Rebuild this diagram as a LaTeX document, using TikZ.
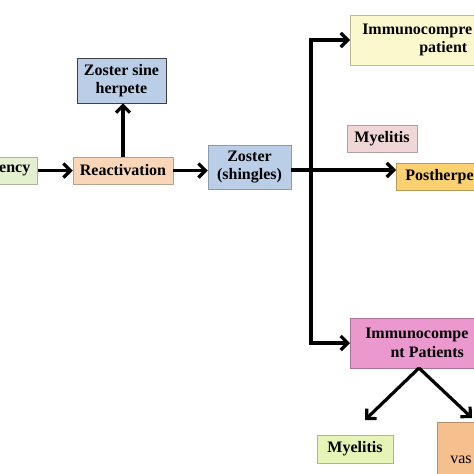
\documentclass[tikz,border=0pt]{standalone}
\usepackage{fontspec}
\setmainfont{Liberation Serif}
\usetikzlibrary{arrows.meta}
\usetikzlibrary{positioning}

\definecolor{latgreen}{RGB}{228,240,208}
\definecolor{peach}{RGB}{249,214,184}
\definecolor{skyblue}{RGB}{186,206,232}
\definecolor{paleyellow}{RGB}{250,248,204}
\definecolor{rosepink}{RGB}{240,214,214}
\definecolor{gold}{RGB}{250,208,112}
\definecolor{magpink}{RGB}{234,152,206}
\definecolor{limegreen}{RGB}{230,244,184}
\definecolor{apricot}{RGB}{246,192,142}

\begin{document}
\begin{tikzpicture}
	[
	x = 1pt, y = -1pt,
	> = {Straight Barb[length=7pt,width=14pt]},
	box/.style = {draw=#1!75!black, fill=#1, line width=0.5pt, inner sep=0pt, align=center,
		font=\bfseries\fontsize{16}{18.5}\selectfont},
	flow/.style = {->, line width=3.2pt},
	trunk/.style = {line width=3.2pt}
	]
		\useasboundingbox (0,0) rectangle (474,474);
		\clip (0,0) rectangle (474,474);

		\coordinate (fork) at (311,170);
		\coordinate (apex) at (419,368);
		\coordinate (tipL) at (365,420);
		\coordinate (tipR) at (472,418);

		\node[box=latgreen, anchor=east, minimum height=27pt, inner xsep=7pt] (lat) at (37.5,170.5) {ency};
		\node[box=peach, minimum width=100pt, minimum height=27pt] (react) at (123,170.5) {Reactivation};
		\node[box=skyblue, draw=black!75, line width=0.8pt, minimum width=89pt, minimum height=45pt] (zsh) at (121.5,80.5) {Zoster sine\\herpete};
		\node[box=skyblue, minimum width=83pt, minimum height=44pt] (zos) at (249.5,167) {Zoster\\(shingles)};

		\node[box=paleyellow, anchor=west, minimum width=186pt, minimum height=50pt] (immcomp) at (350,40) {\makebox[162pt][l]{Immunocompre}\\patient};
		\node[box=rosepink, minimum width=70pt, minimum height=27pt] (mye1) at (382,138.5) {Myelitis};
		\node[box=gold, anchor=west, minimum height=27pt, text width=100pt, align=left, inner xsep=9pt] (post) at (396,176.5) {Postherpe};
		\node[box=magpink, anchor=west, minimum width=154pt, minimum height=50pt] (immcpt) at (350,343) {\makebox[124pt][l]{Immunocompe}\\nt Patients};
		\node[box=limegreen, minimum width=76pt, minimum height=28pt] (mye2) at (355,449) {Myelitis};
		\node[box=apricot, anchor=north west, minimum height=76pt, text width=60pt, align=left, inner xsep=13pt,
			font=\mdseries\fontsize{16}{18.5}\selectfont] (vas) at (437,422) {vas};

		\draw[flow] (lat) -- (react);
		\draw[flow] (react.north) -- (react.north |- zsh.south);
		\draw[flow] (react.east) -- (react.east -| zos.west);

		\draw[trunk] (zos.east |- fork) -- (fork);
		\draw[flow] (fork) -- (fork -| post.west);
		\draw[flow] (fork) |- (immcomp.west);
		\draw[flow] (fork) |- (immcpt.west);

		\draw[flow] (apex) -- (tipL);
		\draw[flow] (apex) -- (tipR);

	\end{tikzpicture}
\end{document}
